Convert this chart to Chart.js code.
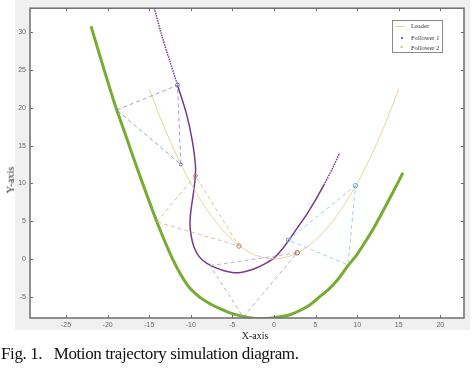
<!DOCTYPE html>
<html>
<head>
<meta charset="utf-8">
<script src="https://cdn.jsdelivr.net/npm/chart.js@4.4.1/dist/chart.umd.min.js"></script>
<style>
  body { margin: 0; background: #fff; }
  #wrap { position: relative; width: 474px; height: 373px; overflow: hidden; }
  #c { position: absolute; left: 0; top: 0; }
  .t { position: absolute; font-family: "Liberation Serif", "Times New Roman", serif; color: #1e1e1e; white-space: pre; line-height: 1; }
  #legend { position: absolute; left: 392px; top: 20px; width: 51px; height: 33px; box-sizing: border-box; border: 1px solid #8a8a8a; background: #fff; }
  #legend .t { font-size: 6.5px; color: #333; }
</style>
</head>
<body>
<div id="wrap">
  <canvas id="c" width="474" height="373"></canvas>
  <div id="legend">
    <div style="position:absolute;left:2px;top:5px;width:10px;height:1px;background:#ecd49a"></div>
    <span class="t" style="left:18px;top:2px">Leader</span>
    <div style="position:absolute;left:8px;top:16px;width:1.5px;height:1.5px;background:#5d6fa8"></div>
    <span class="t" style="left:18px;top:13.5px">Follower 1</span>
    <span class="t" style="left:7px;top:24px;color:#77ac30;font-family:'DejaVu Sans';font-size:6px">*</span>
    <span class="t" style="left:18px;top:24px">Follower 2</span>
  </div>
  <div class="t" style="left:255px;top:331px;font-size:10px;transform:translateX(-50%)">X-axis</div>
  <div class="t" style="left:11px;top:180px;font-size:10.5px;transform:translate(-50%,-50%) rotate(-90deg)">Y-axis</div>
  <div class="t" style="left:1px;top:345px;font-size:17px;letter-spacing:-0.4px;color:#111">Fig. 1.   Motion trajectory simulation diagram.</div>
</div>
<script>
// axis ticks
const xTicks = [-25, -20, -15, -10, -5, 0, 5, 10, 15, 20];
const yTicks = [-5, 0, 5, 10, 15, 20, 25, 30];

// leader path
const leaderPts = [[-15, 22.5], [-14, 19.6], [-13, 16.9], [-12, 14.4], [-11, 12.1], [-10, 10], [-9, 8.1],
  [-8, 6.4], [-7, 4.9], [-6, 3.6], [-5, 2.5], [-4, 1.6], [-3, 0.9], [-2, 0.4], [-1, 0.1], [0, 0], [1, 0.1],
  [2, 0.4], [3, 0.9], [4, 1.6], [5, 2.5], [6, 3.6], [7, 4.9], [8, 6.4], [9, 8.1], [10, 10], [11, 12.1],
  [12, 14.4], [13, 16.9], [14, 19.6], [15, 22.5]];

// follower 1 path
const follower1Pts = [[-14.4, 33.2], [-13.5, 29.6], [-12.5, 26.1], [-11.6, 23.0], [-10.5, 19.1], [-9.8, 15.5],
  [-9.45, 12.5], [-9.45, 11.0], [-9.7, 8.6], [-10.0, 6.3], [-10.1, 4.6], [-9.95, 3.0], [-9.6, 1.5], [-9.0, 0.3],
  [-8.2, -0.5], [-7.2, -1.1], [-6.1, -1.55], [-5.0, -1.82], [-4.0, -1.8], [-3.0, -1.55], [-2.0, -1.15],
  [-1.0, -0.6], [0.0, 0.1], [1.0, 1.3], [2.0, 2.8], [3.0, 4.4], [4.0, 6.0], [5.0, 7.8], [6.0, 9.8],
  [7.0, 11.9], [7.9, 14.0]];

// follower 2 path
const follower2Pts = [[-22.0, 30.8], [-21.0, 27.1], [-20.0, 23.5], [-19.0, 20.0], [-18.0, 16.9], [-17.0, 13.7],
  [-16.0, 10.6], [-15.0, 7.6], [-14.1, 4.95], [-13.2, 2.5], [-12.2, 0.0], [-11.2, -2.1], [-10.1, -3.9],
  [-8.9, -5.1], [-7.7, -5.95], [-6.5, -6.6], [-5.3, -7.15], [-4.0, -7.55], [-2.5, -7.85], [-1.0, -7.9],
  [0.5, -7.7], [1.9, -7.4], [3.0, -6.9], [4.3, -6.1], [5.5, -5.0], [6.6, -4.0], [7.7, -2.7], [8.9, -0.9],
  [10.0, 0.6], [11.0, 2.3], [12.0, 4.1], [13.0, 6.1], [14.0, 8.2], [15.0, 10.3], [15.5, 11.4]];

// formation snapshots (closed triangles)
const snapshot1 = [[-18.9, 19.7], [-11.6, 23.0], [-11.2, 12.5], [-18.9, 19.7]];
const snapshot2 = [[-14.1, 4.9], [-9.45, 11.0], [-4.2, 1.7], [-14.1, 4.9]];
const snapshot3 = [[-7.7, -0.9], [2.8, 0.8], [-3.7, -7.7], [-7.7, -0.9]];
const snapshot4 = [[1.7, 2.5], [9.8, 9.7], [8.9, -0.8], [1.7, 2.5]];

const pts = arr => arr.map(([x, y]) => ({ x, y }));

function triangle(data, color, markColor, radii) {
    return {
        data: pts(data),
        showLine: true,
        borderColor: color,
        borderWidth: 1,
        borderDash: [4, 3],
        tension: 0,
        pointRadius: radii,
        pointBorderColor: markColor,
        pointBorderWidth: 1,
        pointBackgroundColor: 'rgba(255,255,255,0)'
    };
}

const frame = {
    id: 'frame',
    beforeDraw(chart) {
        const { ctx, chartArea: a } = chart;
        ctx.save();
        ctx.fillStyle = '#ffffff';
        ctx.fillRect(0, 0, chart.width, chart.height);
        ctx.fillStyle = '#f0f0f0';
        ctx.fillRect(15, 0, 455, 330);
        ctx.fillStyle = '#ffffff';
        ctx.fillRect(a.left, a.top, a.right - a.left, a.bottom - a.top);
        ctx.restore();
    },
    afterDraw(chart) {
        const { ctx, chartArea: a, scales: { x, y } } = chart;
        ctx.save();
        ctx.strokeStyle = '#6e6e6e';
        ctx.lineWidth = 1;
        ctx.beginPath();
        xTicks.forEach(v => {
            const px = Math.round(x.getPixelForValue(v)) + 0.5;
            ctx.moveTo(px, a.bottom); ctx.lineTo(px, a.bottom - 3);
            ctx.moveTo(px, a.top); ctx.lineTo(px, a.top + 3);
        });
        yTicks.forEach(v => {
            const py = Math.round(y.getPixelForValue(v)) + 0.5;
            ctx.moveTo(a.left, py); ctx.lineTo(a.left + 3, py);
            ctx.moveTo(a.right, py); ctx.lineTo(a.right - 3, py);
        });
        ctx.stroke();
        ctx.lineWidth = 1.5;
        ctx.strokeRect(a.left, a.top, a.right - a.left, a.bottom - a.top);
        ctx.restore();
    }
};

document.addEventListener('DOMContentLoaded', () => {
    new Chart(document.getElementById('c'), {
        type: 'scatter',
        data: {
            datasets: [
                triangle(snapshot1, 'rgba(125,140,205,0.8)', '#7b6fb0', [0, 2, 1.5, 0]),
                triangle(snapshot2, 'rgba(220,165,120,0.75)', '#c47c5c', [0, 1.8, 2.2, 0]),
                triangle(snapshot3, 'rgba(180,150,200,0.8)', '#a0604c', [0, 2.2, 0, 0]),
                triangle(snapshot4, 'rgba(140,200,230,0.85)', '#5fa8c4', [1.8, 2.2, 0, 0]),
                {
                    label: 'Leader',
                    data: pts(leaderPts),
                    showLine: true,
                    borderColor: '#ecd49a',
                    borderWidth: 1,
                    pointRadius: 0,
                    cubicInterpolationMode: 'monotone'
                },
                {
                    label: 'Follower 1',
                    data: pts(follower1Pts),
                    showLine: true,
                    borderColor: '#76398c',
                    borderWidth: 1.5,
                    pointRadius: 0,
                    tension: 0.3,
                    segment: {
                        borderDash: c => (c.p0.parsed.y > 23 || c.p0.parsed.x > 5) ? [1.5, 1] : undefined
                    }
                },
                {
                    label: 'Follower 2',
                    data: pts(follower2Pts),
                    showLine: true,
                    borderColor: '#77ac30',
                    borderWidth: 3,
                    pointRadius: 0,
                    cubicInterpolationMode: 'monotone'
                }
            ]
        },
        options: {
            responsive: false,
            animation: false,
            layout: { padding: { left: 0, right: 10, top: 6, bottom: 0 } },
            plugins: { legend: { display: false }, tooltip: { enabled: false } },
            scales: {
                x: {
                    type: 'linear',
                    min: -29.34,
                    max: 22.85,
                    grid: { display: false, drawTicks: false },
                    border: { display: false },
                    afterBuildTicks: s => { s.ticks = xTicks.map(v => ({ value: v })); },
                    afterFit: s => { s.height = 55; },
                    ticks: { color: '#666', font: { size: 7, family: 'Liberation Sans' }, padding: 3, maxRotation: 0, autoSkip: false }
                },
                y: {
                    type: 'linear',
                    min: -7.83,
                    max: 33.19,
                    grid: { display: false, drawTicks: false },
                    border: { display: false },
                    afterBuildTicks: s => { s.ticks = yTicks.map(v => ({ value: v })); },
                    afterFit: s => { s.width = 30; },
                    ticks: { color: '#666', font: { size: 7, family: 'Liberation Sans' }, padding: 4, autoSkip: false }
                }
            }
        },
        plugins: [frame]
    });
});
</script>
</body>
</html>
